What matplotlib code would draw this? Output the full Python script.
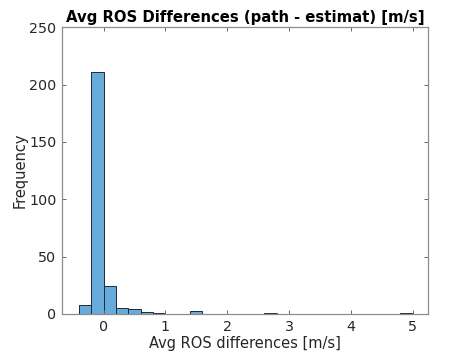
import numpy as np
import matplotlib.pyplot as plt

# bin edges (width 0.2) and counts
bin_left = [-0.4, -0.2, 0.0, 0.2, 0.4, 0.6, 0.8, 1.4, 2.6, 4.8]
counts = [8, 211, 24, 5, 4, 2, 1, 3, 1, 1]
bin_width = 0.2

fig = plt.figure(figsize=(4.74, 3.55), dpi=100)
ax = fig.add_axes([0.131, 0.1155, 0.772, 0.8075])

ax.bar(bin_left, counts, width=bin_width, align='edge',
       color=(0.40, 0.67, 0.85), edgecolor='#1c2a38', linewidth=0.7)

ax.set_xlim(-0.67, 5.25)
ax.set_ylim(0, 250)
ax.set_xticks([0, 1, 2, 3, 4, 5])
ax.set_yticks([0, 50, 100, 150, 200, 250])

for s in ax.spines.values():
    s.set_color('0.55')
    s.set_linewidth(0.9)
ax.tick_params(direction='in', length=3, width=0.7, color='0.4',
               top=True, right=True, labelsize=10.3, labelcolor='0.15', pad=4)

ax.set_title('Avg ROS Differences (path - estimat) [m/s]', fontsize=10.7,
             fontweight='bold', color='black', pad=4)
ax.set_xlabel('Avg ROS differences [m/s]', fontsize=10.5, color='0.15', labelpad=2)
ax.set_ylabel('Frequency', fontsize=10.5, color='0.15', labelpad=1)

fig.savefig('out.png', dpi=100)
